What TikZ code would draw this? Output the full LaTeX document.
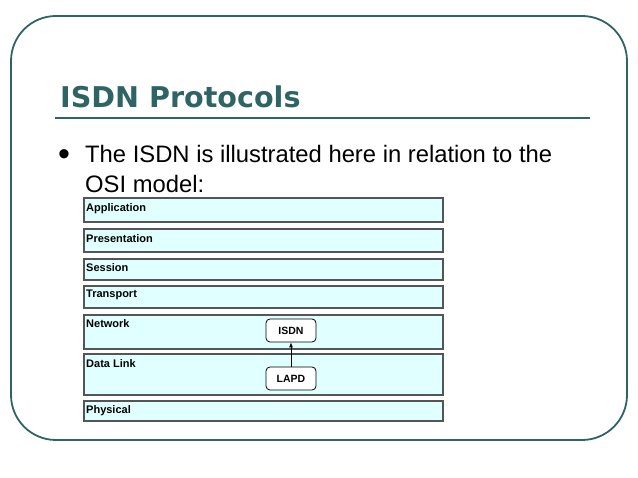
\documentclass[tikz,border=0pt]{standalone}
\usepackage{fontspec}
\setmainfont{Liberation Sans}
\newfontfamily\titlefont{DejaVu Sans}
\usetikzlibrary{arrows.meta}
\definecolor{teal1}{HTML}{2F6464}
\definecolor{boxfill}{HTML}{E0FFFF}
\definecolor{boxline}{HTML}{555555}
\begin{document}
\begin{tikzpicture}[x=1pt,y=-1pt,
  layer/.style={draw=boxline,line width=1.2pt,fill=boxfill},
  lbl/.style={anchor=north west,inner sep=0pt,font=\fontsize{11}{12}\selectfont\bfseries},
  proto/.style={draw=black,line width=0.8pt,fill=white,rounded corners=4pt,minimum width=50pt,minimum height=23pt,inner sep=0pt,font=\fontsize{10.5}{12}\selectfont\bfseries}]
\useasboundingbox (0,0) rectangle (638,478);
\draw[teal1,line width=1.8pt,rounded corners=45pt] (11,16) rectangle (627,440);
\node[anchor=base west,inner sep=0pt,text=teal1,font=\titlefont\fontsize{28.6}{32}\selectfont\bfseries] (title) at (60,108) {ISDN Protocols};
\draw[teal1,line width=2.5pt] (55,118) -- (590,118);
\node[anchor=base west,inner sep=0pt,font=\fontsize{34}{34}\selectfont] (bullet) at (58,166) {•};
\node[anchor=base west,inner sep=0pt,font=\fontsize{23.8}{28}\selectfont] (l1) at (85,163) {The ISDN is illustrated here in relation to the};
\node[anchor=base west,inner sep=0pt,font=\fontsize{23.8}{28}\selectfont] (l2) at (85,193) {OSI model:};
\draw[layer] (84,198) rectangle (443,222);
\node[lbl] (app) at (86,203) {Application};
\draw[layer] (84,229) rectangle (443,252);
\node[lbl] (pre) at (86,234) {Presentation};
\draw[layer] (84,259) rectangle (443,280);
\node[lbl] (ses) at (86,263) {Session};
\draw[layer] (84,286) rectangle (443,308);
\node[lbl] (tra) at (86,290) {Transport};
\draw[layer] (84,315) rectangle (443,349);
\node[lbl] (net) at (86,319) {Network};
\draw[layer] (84,354) rectangle (443,395);
\node[lbl] (dl) at (86,359) {Data Link};
\draw[layer] (84,401) rectangle (443,421);
\node[lbl] (phy) at (86,405) {Physical};
\node[proto] (isdn) at (291,330.5) {ISDN};
\node[proto] (lapd) at (291,378.5) {LAPD};
\draw[-{Latex[length=5pt,width=4pt]},line width=0.8pt] (lapd.north) -- (isdn.south);
\end{tikzpicture}
\end{document}
